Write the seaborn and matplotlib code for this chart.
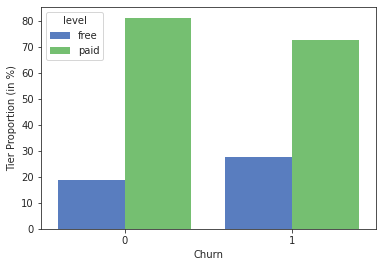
import matplotlib
matplotlib.use("Agg")
import matplotlib.pyplot as plt
import seaborn as sns
import pandas as pd

churn = [0, 0, 1, 1]
level = ["free", "paid", "free", "paid"]
proportion = [18.8, 81.2, 27.6, 72.4]

df = pd.DataFrame({"Churn": churn, "level": level, "prop": proportion})

sns.set_style("ticks")
plt.rcParams["font.family"] = ["DejaVu Sans"]

muted = sns.color_palette("muted")
fig, ax = plt.subplots(figsize=(6, 4), dpi=72)
sns.barplot(data=df, x="Churn", y="prop", hue="level",
            palette=[muted[0], muted[2]], linewidth=0, ax=ax)
ax.set_ylabel("Tier Proportion (in %)")
ax.set_xlabel("Churn")
ax.legend(title="level", loc="upper left")
fig.savefig("out.png", dpi=72, bbox_inches="tight")
